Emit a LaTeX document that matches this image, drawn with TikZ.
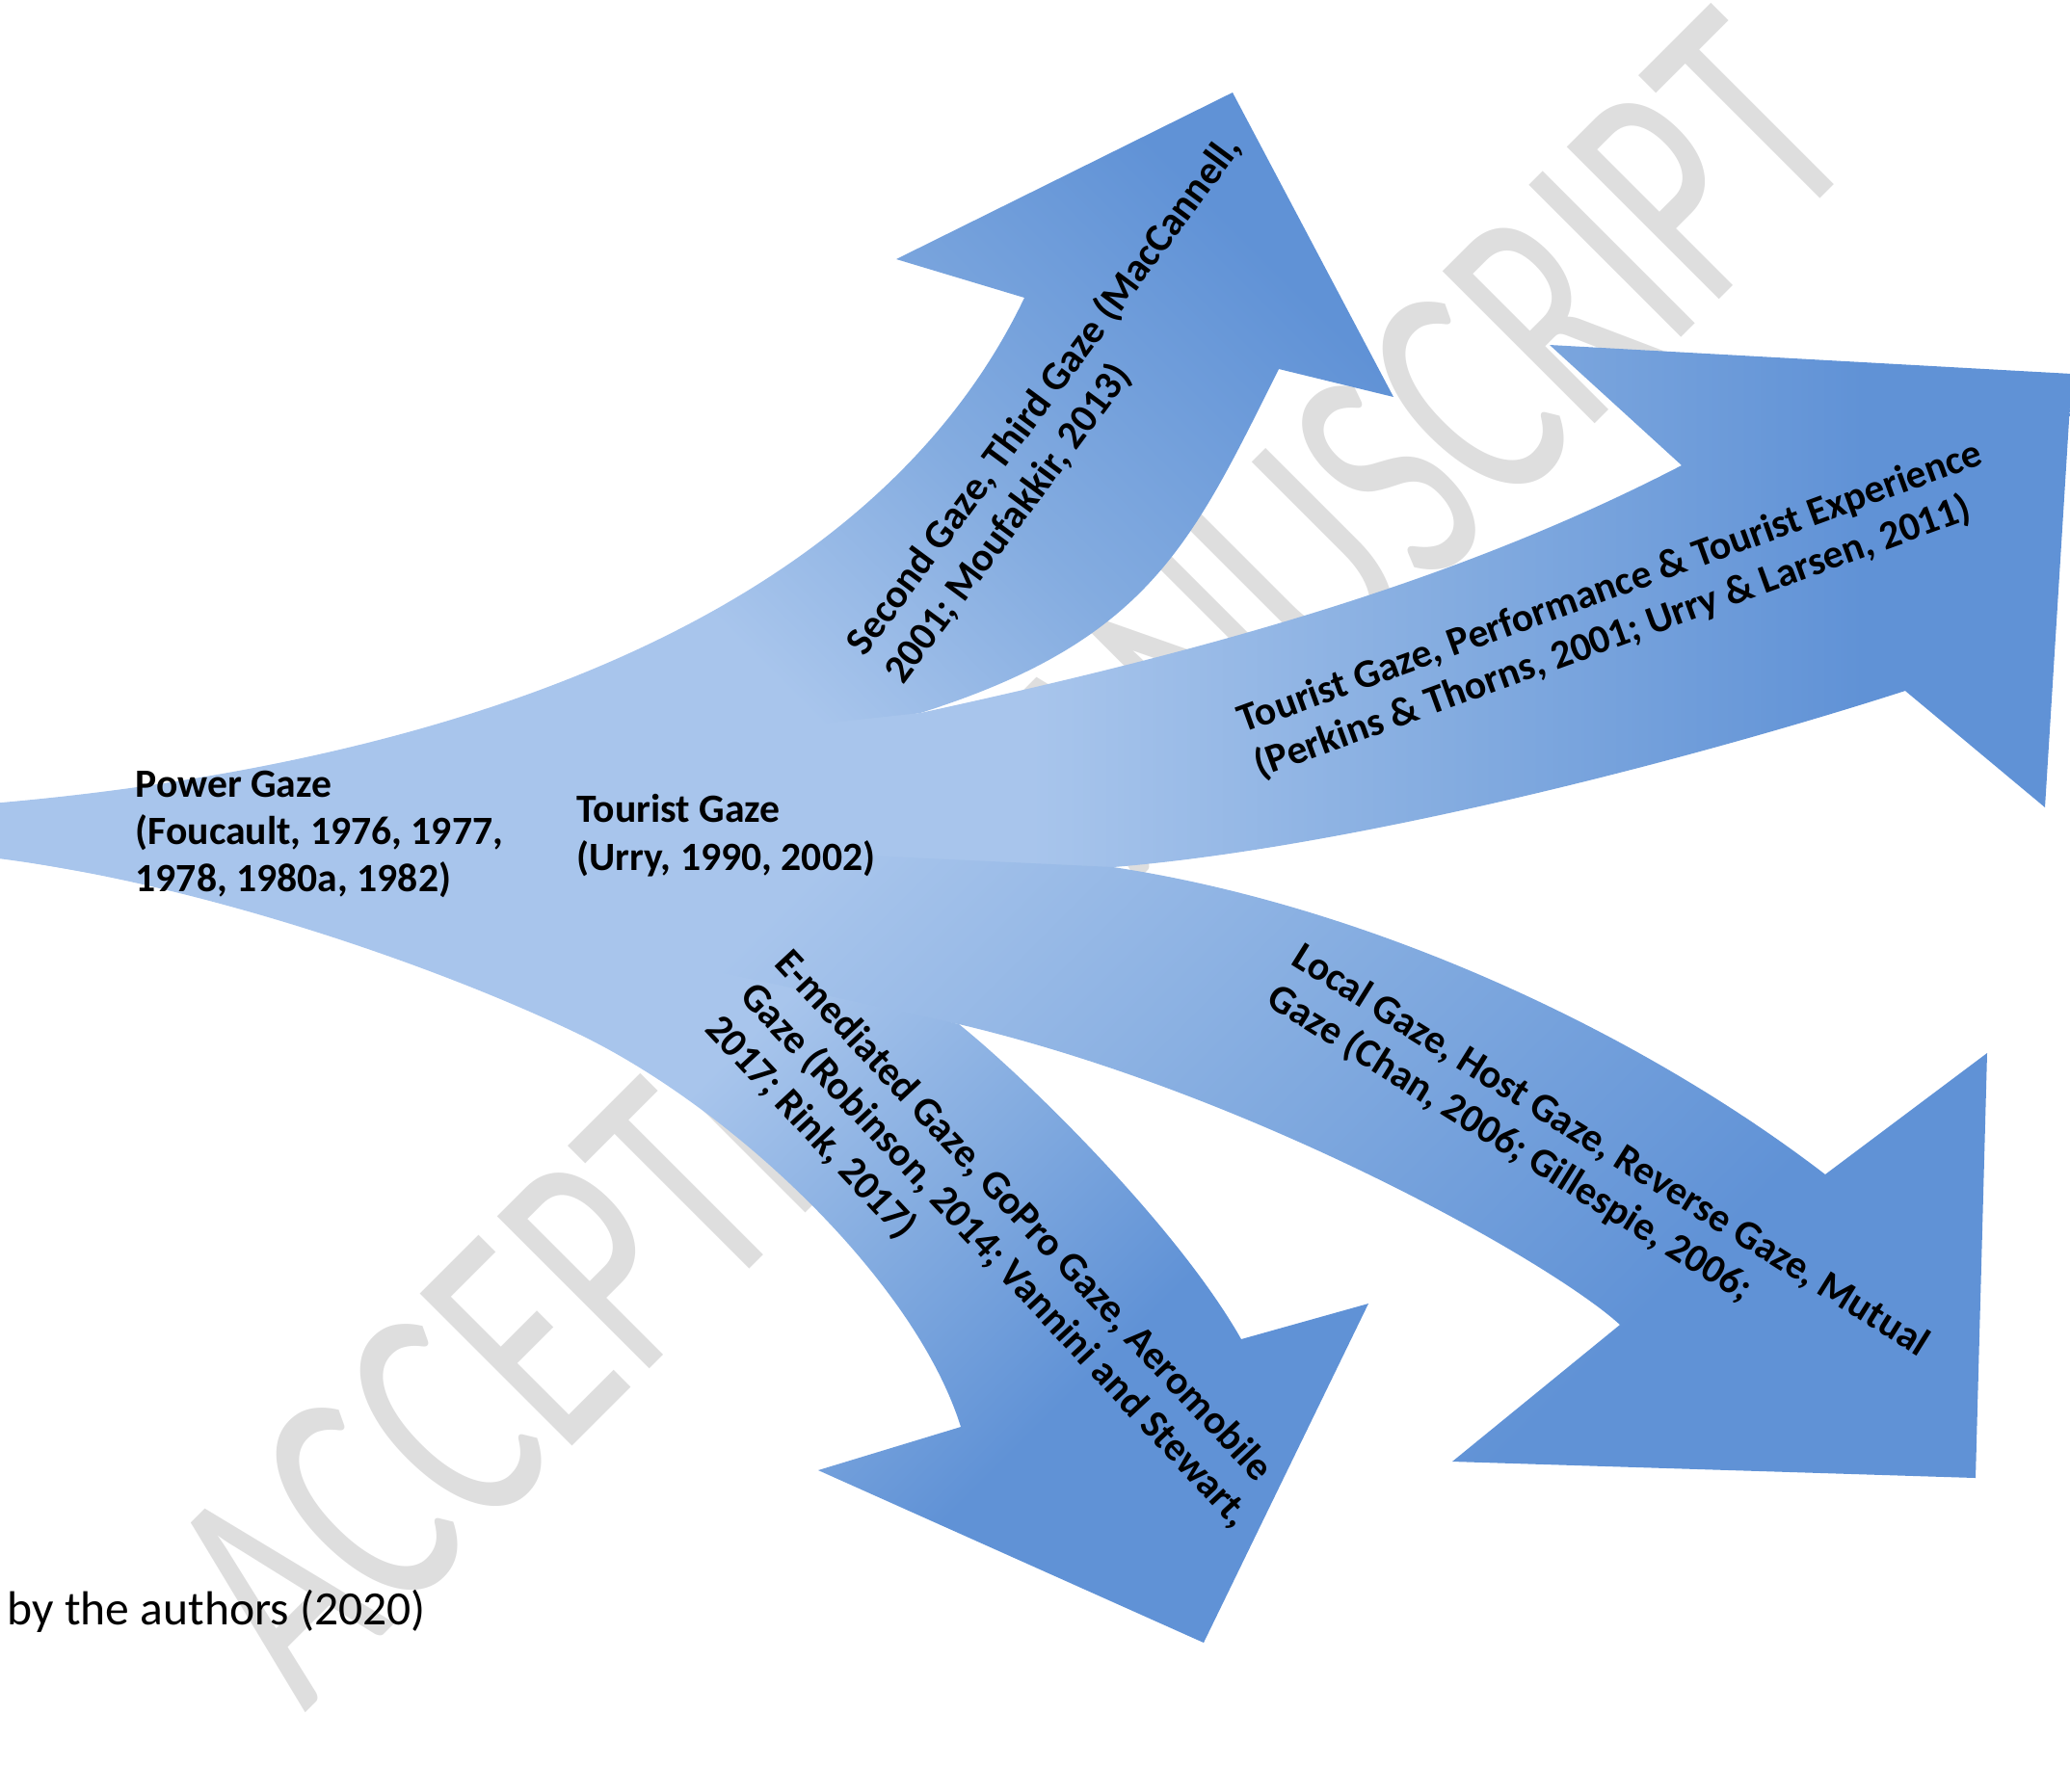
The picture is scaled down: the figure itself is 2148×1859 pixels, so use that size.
\documentclass[tikz,border=0pt]{standalone}
\usepackage{fontspec}
\setmainfont{Carlito}

\definecolor{gazelight}{HTML}{A8C5EC}
\definecolor{gazemid}{HTML}{84ACE0}
\definecolor{gazedark}{HTML}{6092D6}
% light tail, darker head; #2 end of light part, #3 middle, #4 start of dark part
\newcommand{\gazeshading}[4]{\pgfdeclareverticalshading{#1}{100bp}{color(0bp)=(gazelight); color(#2)=(gazelight); color(#3)=(gazemid); color(#4)=(gazedark); color(100bp)=(gazedark)}}
\gazeshading{flowsecond}{46bp}{59bp}{76bp}
\gazeshading{flowtourist}{50bp}{60bp}{70bp}
\gazeshading{flowlocal}{38bp}{55bp}{72bp}
\gazeshading{flowmedia}{46bp}{57bp}{68bp}

\tikzset{
  gazearrow/.style={shading=#1},
  gazelabel/.style={font=\bfseries\fontsize{11.85}{14}\selectfont, align=left, inner sep=0pt, anchor=north west},
  watermark/.style={text=black!13, font=\fontsize{99}{99}\selectfont, inner sep=0pt}
}

\begin{document}
\begin{tikzpicture}[x=0.01cm, y=-0.01cm]
% Set the page (one unit is one pixel of the figure)
\useasboundingbox (0,0) rectangle (2148,1859);

% Watermark behind the arrows
\node[watermark, rotate=45, xscale=0.66, transform shape] (stamp) at (1047,890) {ACCEPTED MANUSCRIPT};

% Draw the four arrows, all starting from the stem on the left
\shade[gazearrow=flowsecond, shading angle=-45] (-10,834) .. controls (450,795) and (900,650) .. (1063,309) -- (930,269) -- (1279,96) -- (1446,412) -- (1327,383) .. controls (1237,563) and (1193,665) .. (955,740) -- (-10,888) -- cycle;
\shade[gazearrow=flowtourist, shading angle=-90] (-10,845) -- (955,740) .. controls (1230,680) and (1500,610) .. (1745,483) -- (1608,358) -- (2150,388) -- (2122,838) -- (1977,717) .. controls (1750,790) and (1400,880) .. (1155,900) -- (-10,888) -- cycle;
\shade[gazearrow=flowlocal, shading angle=-135] (-10,845) -- (1155,900) .. controls (1420,940) and (1700,1070) .. (1894,1219) -- (2062,1093) -- (2050,1534) -- (1507,1517) -- (1681,1375) .. controls (1610,1310) and (1300,1135) .. (995,1063) -- (-10,888) -- cycle;
\shade[gazearrow=flowmedia, shading angle=-135] (-10,845) -- (995,1063) .. controls (1060,1115) and (1220,1270) .. (1288,1390) -- (1420,1353) -- (1249,1705) -- (849,1526) -- (997,1481) .. controls (950,1330) and (760,1150) .. (600,1073) .. controls (450,1001) and (200,915) .. (-10,890) -- cycle;

% Insert the labels
\node[gazelabel] (powergaze) at (140,799) {Power Gaze\\(Foucault, 1976, 1977,\\1978, 1980a, 1982)};
\node[gazelabel] (touristgaze) at (598,824) {Tourist Gaze\\(Urry, 1990, 2002)};
\node[gazelabel, rotate=53.5] (secondgaze) at (872,664) {Second Gaze, Third Gaze (MacCannell,\\2001; Moufakkir, 2013)};
\node[gazelabel, rotate=20] (performance) at (1280,733) {Tourist Gaze, Performance \& Tourist Experience\\(Perkins \& Thorns, 2001; Urry \& Larsen, 2011)};
\node[gazelabel, rotate=-47] (emediated) at (824,981) {E-mediated Gaze, GoPro Gaze, Aeromobile\\Gaze (Robinson, 2014; Vannini and Stewart,\\2017; Rink, 2017)};
\node[gazelabel, rotate=-32] (localgaze) at (1354,975) {Local Gaze, Host Gaze, Reverse Gaze, Mutual\\Gaze (Chan, 2006; Gillespie, 2006;};

\node[anchor=base west, inner sep=0pt, font=\fontsize{14.1}{17}\selectfont] (caption) at (7,1686) {by the authors (2020)};
\end{tikzpicture}
\end{document}
